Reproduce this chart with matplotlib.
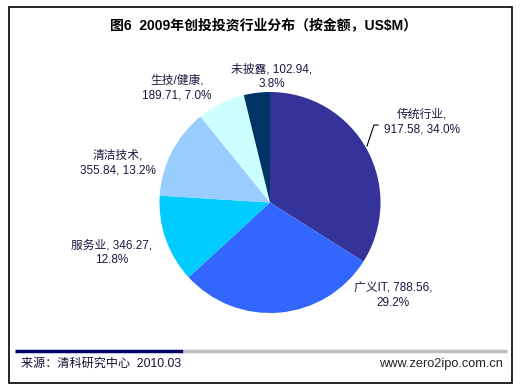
import matplotlib.pyplot as plt
from matplotlib.patches import Rectangle

plt.rcParams["font.family"] = ["Liberation Sans", "Noto Sans CJK SC", "DejaVu Sans"]

# data (US$M), clockwise from 12 o'clock
sectors = ["传统行业", "广义IT", "服务业", "清洁技术", "生技/健康", "未披露"]
amounts = [917.58, 788.56, 346.27, 355.84, 189.71, 102.94]
shares = ["34.0%", "29.2%", "12.8%", "13.2%", "7.0%", "3.8%"]
colors = ["#333399", "#3366FF", "#00CCFF", "#99CCFF", "#CCFFFF", "#003366"]

W, H = 520, 389
fig = plt.figure(figsize=(W / 100, H / 100), dpi=100)
ax = fig.add_axes([0, 0, 1, 1])


def Y(y):
    return H - y


ax.pie(amounts, colors=colors, startangle=90, counterclock=False,
       center=(270, Y(202.5)), radius=110.5, frame=True,
       wedgeprops=dict(linewidth=0))
ax.set_xlim(0, W)
ax.set_ylim(0, H)
ax.set_aspect("equal")
ax.axis("off")

# outer frame
ax.add_patch(Rectangle((9, Y(383)), 503, 376, fill=False, lw=1.2, ec="black"))

ax.text(263, Y(25), "图6  2009年创投投资行业分布（按金额，US$M）",
        ha="center", va="center", fontsize=10, fontweight="bold")

# footer
ax.plot([15, 183], [Y(351), Y(351)], color="#000066", lw=2.5,
        solid_capstyle="butt")
ax.plot([183, 507], [Y(351), Y(351)], color="#BFBFBF", lw=2.5,
        solid_capstyle="butt")
ax.text(21, Y(364), "来源：清科研究中心  2010.03", ha="left", va="center",
        fontsize=8.7, color="#111133")
ax.text(503, Y(364), "www.zero2ipo.com.cn", ha="right", va="center",
        fontsize=9.2, color="#222222")

lab = dict(fontsize=8.5, color="#1a1a40", ha="center", va="center",
           linespacing=1.25)
txt = [f"{s}, {a:.2f}" for s, a in zip(sectors, amounts)]
ax.text(422, Y(122), f"{sectors[0]},\n{amounts[0]:.2f}, {shares[0]}", **lab)
ax.text(393, Y(296), f"{txt[1]},\n{shares[1]}", **lab)
ax.text(112, Y(253), f"{txt[2]},\n{shares[2]}", **lab)
ax.text(118, Y(163), f"{sectors[3]},\n{amounts[3]:.2f}, {shares[3]}", **lab)
ax.text(177, Y(88), f"{sectors[4]},\n{amounts[4]:.2f}, {shares[4]}", **lab)
ax.text(272, Y(77), f"{txt[5]},\n{shares[5]}", **lab)

# leader line for 传统行业
ax.plot([367, 374, 378], [Y(146), Y(125), Y(125)], color="black", lw=0.8)

fig.savefig("out.png", dpi=100)
